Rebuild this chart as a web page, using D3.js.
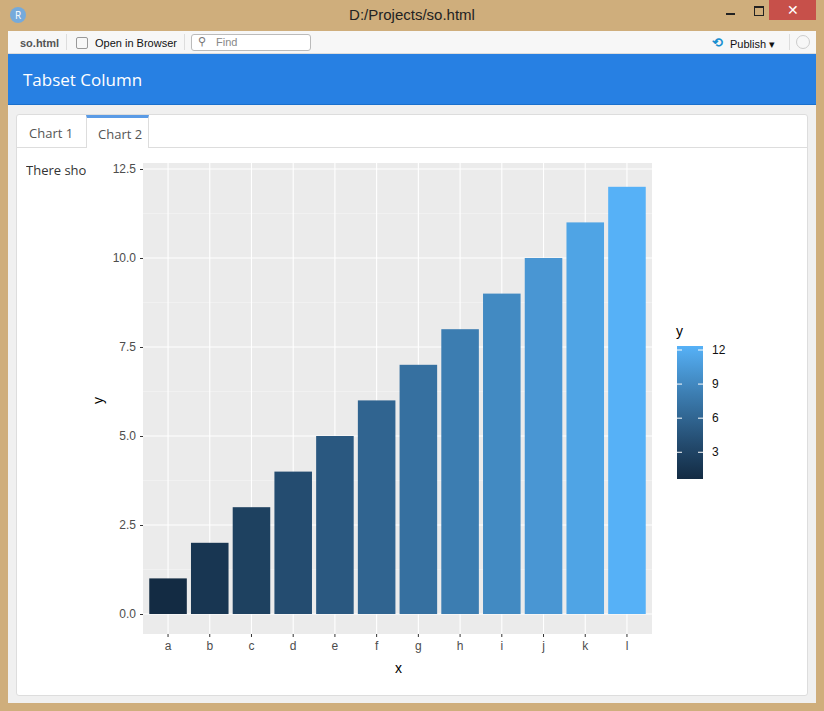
<!DOCTYPE html>
<html><head><meta charset="utf-8">
<script src="https://cdn.jsdelivr.net/npm/d3@7"></script>
<style>
body{margin:0;width:824px;height:711px;background:#cfae7c;font-family:"Open Sans",sans-serif;overflow:hidden;position:relative}
.abs{position:absolute}
</style></head><body>
<div class="abs" style="left:0;top:0;width:824px;height:30px">
  <div class="abs" style="left:10px;top:7px;width:16px;height:16px;border-radius:8px;background:#75aadb;color:#fff;font-size:10px;text-align:center;line-height:16px">R</div>
  <div class="abs" style="left:0;width:824px;top:6px;text-align:center;font-family:'Liberation Sans';font-size:15px;color:#222">D:/Projects/so.html</div>
  <div class="abs" style="left:726px;top:13px;width:9px;height:2px;background:#222"></div>
  <div class="abs" style="left:754px;top:6px;width:8px;height:7px;border:1.5px solid #222;border-top-width:2.5px"></div>
  <div class="abs" style="left:769px;top:0;width:47px;height:20px;background:#c7504a;color:#fff;text-align:center;font-size:14px;line-height:20px">✕</div>
</div>
<div class="abs" style="left:8px;top:31px;width:808px;height:672px;background:#f0f0f0"></div>
<div class="abs" style="left:8px;top:31px;width:808px;height:22px;background:#f7f7f7;border-bottom:1px solid #ddd;font-family:'Liberation Sans';font-size:11px">
  <span class="abs" style="left:12px;top:6px;color:#555;font-weight:bold">so.html</span>
  <div class="abs" style="left:58px;top:3px;width:1px;height:16px;background:#ddd"></div>
  <div class="abs" style="left:68px;top:6px;width:10px;height:10px;border:1px solid #999;border-radius:2px"></div>
  <span class="abs" style="left:87px;top:6px;color:#111">Open in Browser</span>
  <div class="abs" style="left:176px;top:3px;width:1px;height:16px;background:#ddd"></div>
  <div class="abs" style="left:183px;top:3px;width:118px;height:15px;border:1px solid #bbb;border-radius:3px;background:#fff"><span style="position:absolute;left:6px;top:0px;color:#777">⚲</span><span style="position:absolute;left:24px;top:1px;color:#888">Find</span></div>
  <span class="abs" style="left:704px;top:4px;color:#1a8fd0;font-weight:bold;font-size:13px">⟲</span>
  <span class="abs" style="left:722px;top:7px;color:#111">Publish ▾</span>
  <div class="abs" style="left:781px;top:3px;width:1px;height:16px;background:#ddd"></div>
  <div class="abs" style="left:788px;top:4px;width:12px;height:12px;border:1.5px solid #ccc;border-radius:8px"></div>
</div>
<div class="abs" style="left:8px;top:54px;width:808px;height:50px;background:#2780e3;border-bottom:1px solid #1a6fcc">
  <span class="abs" style="left:15px;top:14px;color:#fff;font-size:17px">Tabset Column</span>
</div>
<div class="abs" style="left:16px;top:114px;width:790px;height:580px;background:#fff;border:1px solid #ddd;border-radius:3px">
  <div class="abs" style="left:0;top:32px;width:790px;height:1px;background:#ddd"></div>
  <span class="abs" style="left:12px;top:9px;font-size:13px;color:#555">Chart 1</span>
  <div class="abs" style="left:69px;top:0;width:63px;height:33px;background:#fff;border-left:1px solid #ddd;border-right:1px solid #ddd;border-top:3px solid #5a9be6;box-sizing:border-box"><span style="position:absolute;left:11px;top:7px;font-size:13px;color:#555">Chart 2</span></div>
  <div class="abs" style="left:9px;top:43px;width:60px;height:20px;overflow:hidden"><span style="font-size:13px;color:#333;white-space:nowrap">There should be a chart here</span></div>
</div>
<svg id="chart" class="abs" style="left:86px;top:150px" width="710" height="535"></svg>
<script>
const categories = ["a","b","c","d","e","f","g","h","i","j","k","l"];
const values = [1,2,3,4,5,6,7,8,9,10,11,12];
const yTicks = [0,2.5,5,7.5,10,12.5];
const legendTicks = [3,6,9,12];

const svg = d3.select("#chart");
const ox = 86, oy = 150;
svg.append("rect").attr("x",20).attr("width",690).attr("height",535).attr("fill","#fff");
const g = svg.append("g").attr("transform",`translate(${143-ox},${163-oy})`);
const W = 509, H = 471;
const x = d3.scaleBand().domain(categories).range([0,W]).paddingInner(0.1).paddingOuter(0.15);
const y = d3.scaleLinear().domain([0,12.5]).range([451,6]);
const color = d3.scaleLinear().domain([1,12]).range(["#132B43","#56B1F7"]).interpolate(d3.interpolateLab);

g.append("rect").attr("width",W).attr("height",H).attr("fill","#ebebeb");
const minor = [1.25,3.75,6.25,8.75,11.25];
g.selectAll(".mn").data(minor).enter().append("line").attr("x1",0).attr("x2",W)
  .attr("y1",d=>y(d)).attr("y2",d=>y(d)).attr("stroke","#f5f5f5").attr("stroke-width",0.6);
g.selectAll(".mj").data(yTicks).enter().append("line").attr("x1",0).attr("x2",W)
  .attr("y1",d=>y(d)).attr("y2",d=>y(d)).attr("stroke","#fff").attr("stroke-width",1.1);
g.selectAll(".vx").data(categories).enter().append("line")
  .attr("x1",d=>x(d)+x.bandwidth()/2).attr("x2",d=>x(d)+x.bandwidth()/2)
  .attr("y1",0).attr("y2",H).attr("stroke","#fff").attr("stroke-width",1.1);
g.selectAll(".bar").data(categories).enter().append("rect")
  .attr("x",d=>x(d)).attr("width",x.bandwidth())
  .attr("y",(d,i)=>y(values[i])).attr("height",(d,i)=>y(0)-y(values[i]))
  .attr("fill",(d,i)=>color(values[i]));

const ya = g.append("g").call(d3.axisLeft(y).tickValues(yTicks).tickFormat(d3.format(".1f")).tickSize(3).tickPadding(4));
ya.select(".domain").remove();
ya.selectAll("line").attr("stroke","#333");
ya.selectAll("text").attr("fill","#4d4d4d").style("font-family","Liberation Sans").style("font-size","12px");
const xa = g.append("g").attr("transform",`translate(0,${H})`).call(d3.axisBottom(x).tickSize(3).tickPadding(4));
xa.select(".domain").remove();
xa.selectAll("line").attr("stroke","#333");
xa.selectAll("text").attr("fill","#4d4d4d").style("font-family","Liberation Sans").style("font-size","12px");
g.append("text").attr("x",W/2+1).attr("y",H+39).attr("text-anchor","middle")
  .style("font-family","Liberation Sans").style("font-size","14px").text("x");
g.append("text").attr("transform",`translate(-40,${H/2+2}) rotate(-90)`).attr("text-anchor","middle")
  .style("font-family","Liberation Sans").style("font-size","14px").text("y");

// legend colourbar
const lg = svg.append("g").attr("transform",`translate(${677-ox},0)`);
const ly = d3.scaleLinear().domain([1,12]).range([475-oy,350-oy]);
const grad = svg.append("defs").append("linearGradient").attr("id","gr").attr("x1",0).attr("x2",0).attr("y1",1).attr("y2",0);
[1,4,8,12].forEach(v=>grad.append("stop").attr("offset",(v-1)/11).attr("stop-color",color(v)));
lg.append("rect").attr("y",ly(12)-4).attr("width",26).attr("height",ly(1)-ly(12)+8).attr("fill","url(#gr)");
lg.selectAll(".lt").data(legendTicks).enter().append("g").each(function(d){
  const s=d3.select(this);
  s.append("line").attr("x1",0).attr("x2",5).attr("y1",ly(d)).attr("y2",ly(d)).attr("stroke","#fff");
  s.append("line").attr("x1",21).attr("x2",26).attr("y1",ly(d)).attr("y2",ly(d)).attr("stroke","#fff");
  s.append("text").attr("x",35).attr("y",ly(d)+4).text(d)
   .style("font-family","Liberation Sans").style("font-size","12px").attr("fill","#111");
});
lg.append("text").attr("x",-1).attr("y",336-oy).text("y").style("font-family","Liberation Sans").style("font-size","14px");
</script>
</body></html>
